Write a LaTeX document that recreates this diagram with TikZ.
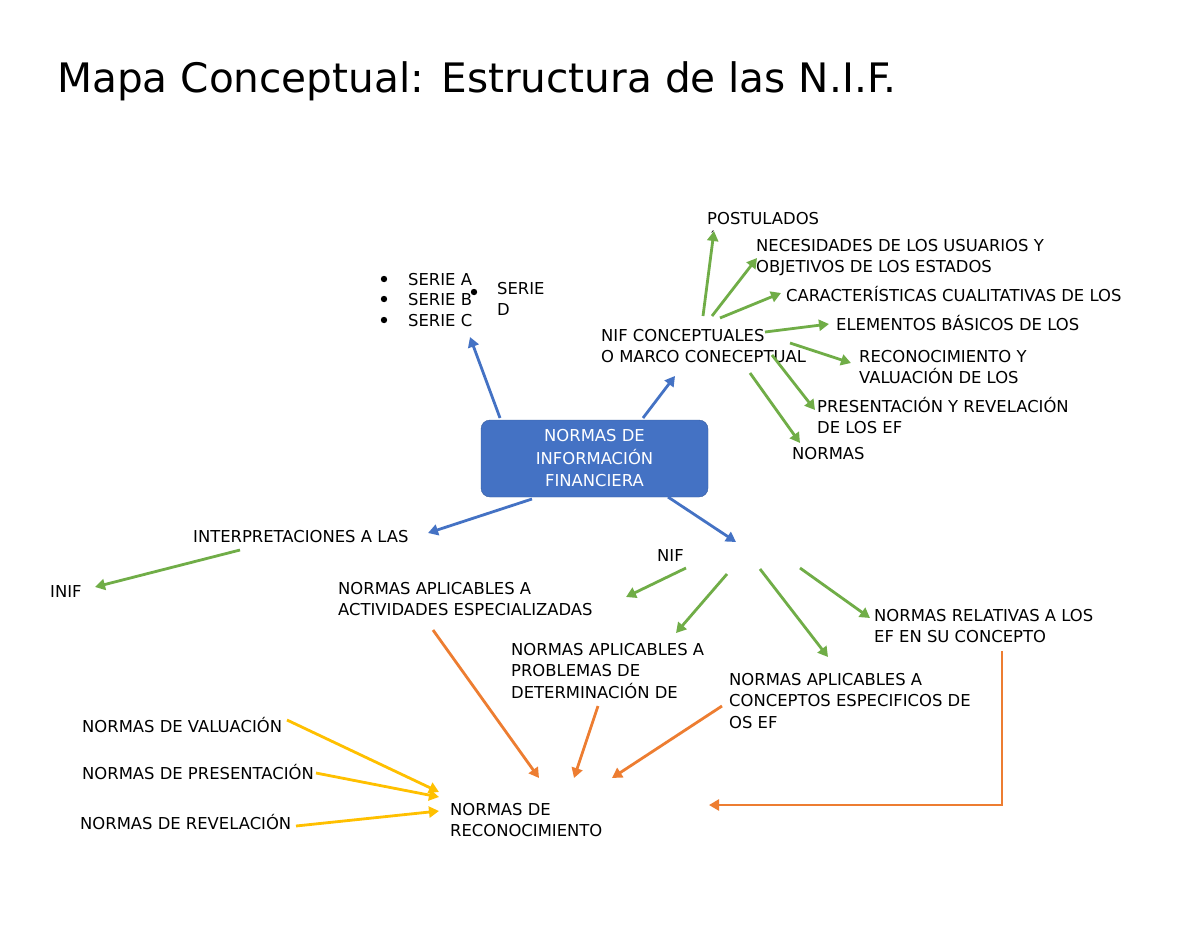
\documentclass[tikz,border=0pt]{standalone}
\usepackage{fontspec}
\setmainfont{DejaVu Sans}
\usetikzlibrary{arrows.meta}
\definecolor{cblue}{HTML}{4472C4}
\definecolor{cgreen}{HTML}{70AD47}
\definecolor{corange}{HTML}{ED7D31}
\definecolor{cyellow}{HTML}{FFC000}
\begin{document}
\begin{tikzpicture}[x=1pt,y=-1pt,
  txt/.style={anchor=base west,inner sep=0pt,font=\fontsize{16.4}{21.5}\selectfont,align=left},
  con/.style={line width=2.8pt,-{Triangle[length=10pt,width=11pt]}},
  bl/.style={con,cblue}, gr/.style={con,cgreen}, og/.style={con,corange}, yl/.style={con,cyellow}]
\useasboundingbox[fill=white] (0,0) rectangle (1200,927);
\node[anchor=base west,inner sep=0pt,font=\fontsize{40.6}{44}\selectfont] (title) at (57,92) {Mapa Conceptual: Estructura de las N.I.F.};
% bullets
\foreach \y/\t [count=\i] in {285/A,305/B,326/C}{
  \fill (384,\y-6) circle (3.2pt);
  \node[txt] (s\i) at (408,\y) {SERIE \t};}
\fill (474,292) circle (3.2pt);
\node[txt] (sd) at (497,315.5) {SERIE\\D};
% texts
\node[txt] (nifc) at (601,362.5) {NIF CONCEPTUALES\\O MARCO CONECEPTUAL};
\node[txt] (post) at (707,224) {POSTULADOS};
\node[anchor=base west,inner sep=0pt,font=\fontsize{12}{12}\selectfont] (acc) at (709,240) {´};
\node[txt] (nec) at (756,272.5) {NECESIDADES DE LOS USUARIOS Y\\OBJETIVOS DE LOS ESTADOS};
\node[txt] (car) at (786,301) {CARACTERÍSTICAS CUALITATIVAS DE LOS};
\node[txt] (ele) at (836,330) {ELEMENTOS BÁSICOS DE LOS};
\node[txt] (rec) at (859,383.5) {RECONOCIMIENTO Y\\VALUACIÓN DE LOS};
\node[txt] (pre) at (817,433.5) {PRESENTACIÓN Y REVELACIÓN\\DE LOS EF};
\node[txt] (nor) at (792,459) {NORMAS};
\node[draw=cblue!80!black,fill=cblue,rounded corners=9pt,minimum width=227pt,minimum height=77pt,text=white,align=center,font=\fontsize{16.4}{22.5}\selectfont] (nif) at (594.5,458.5) {NORMAS DE\\INFORMACIÓN\\FINANCIERA};
\node[txt] (interp) at (193,542) {INTERPRETACIONES A LAS};
\node[txt] (inif) at (50,597) {INIF};
\node[txt] (nifn) at (657,561) {NIF};
\node[txt] (act) at (338,615.5) {NORMAS APLICABLES A\\ACTIVIDADES ESPECIALIZADAS};
\node[txt] (rel) at (874,642.5) {NORMAS RELATIVAS A LOS\\EF EN SU CONCEPTO};
\node[txt] (prob) at (511,698) {NORMAS APLICABLES A\\PROBLEMAS DE\\DETERMINACIÓN DE};
\node[txt] (conc) at (729,728) {NORMAS APLICABLES A\\CONCEPTOS ESPECIFICOS DE\\OS EF};
\node[txt] (val) at (82,732) {NORMAS DE VALUACIÓN};
\node[txt] (pres) at (82,779) {NORMAS DE PRESENTACIÓN};
\node[txt] (rev) at (80,829) {NORMAS DE REVELACIÓN};
\node[txt] (nrec) at (450,836.5) {NORMAS DE\\RECONOCIMIENTO};
% blue
\draw[bl] (500,418) -- (470,337);
\draw[bl] (643,418) -- (675,376);
\draw[bl] (532,499) -- (428,533);
\draw[bl] (668,497) -- (736,542);
% green top
\draw[gr] (703,316) -- (714,231);
\draw[gr] (712,316) -- (757,258);
\draw[gr] (720,318) -- (781,293);
\draw[gr] (765,332) -- (829,324);
\draw[gr] (790,343) -- (851,363);
\draw[gr] (772,355) -- (815,410);
\draw[gr] (750,373) -- (800,443);
% green bottom
\draw[gr] (240,550) -- (95,587);
\draw[gr] (686,568) -- (626,597);
\draw[gr] (727,574) -- (676,633);
\draw[gr] (760,569) -- (828,657);
\draw[gr] (800,568) -- (870,618);
% orange
\draw[og] (433,630) -- (539,778);
\draw[og] (598,706) -- (574,778);
\draw[og] (722,706) -- (612,778);
\draw[og] (1002,651) -- (1002,805) -- (709,805);
% yellow
\draw[yl] (287,720) -- (439,792);
\draw[yl] (316,773) -- (439,797);
\draw[yl] (296,826) -- (439,811);
\end{tikzpicture}
\end{document}
